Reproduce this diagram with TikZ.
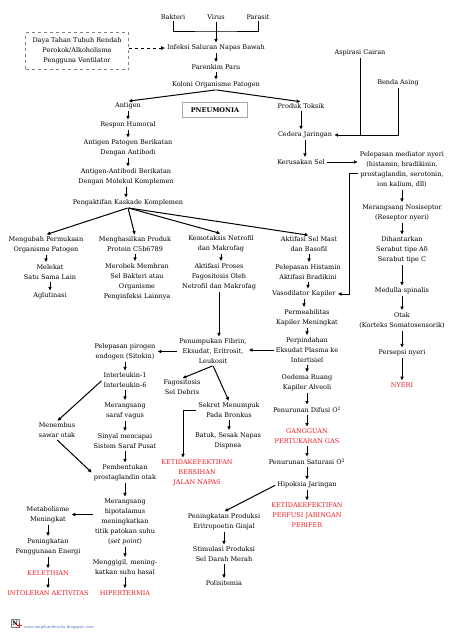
\documentclass[tikz,border=0pt]{standalone}
\usepackage{fontspec}
\setmainfont{DejaVu Serif}
\usetikzlibrary{arrows.meta}
\definecolor{alert}{RGB}{238,28,36}
\definecolor{linkblue}{RGB}{90,120,200}
\newcommand\vlink[2]{\draw[arr] (#1.south) -- (#1.south |- #2.north);}
\begin{document}
\begin{tikzpicture}[x=1pt,y=-1pt,
  every node/.style={font=\fontsize{6.5}{10}\selectfont, align=center, inner sep=1.5pt},
  warn/.style={text=alert},
  arr/.style={-{Latex[length=3.8pt,width=3.8pt]}, line width=1pt, shorten >=0.5pt, shorten <=0.5pt},
  plain/.style={line width=1pt},
]
\useasboundingbox (0,0) rectangle (452,640);

% top
\node (bak) at (173,17) {Bakteri};
\node (vir) at (216,17) {Virus};
\node (par) at (258,17) {Parasit};
\coordinate (j) at (216,31);
\node[draw=gray, dashed, thick, minimum width=103pt, minimum height=37pt] (risk) at (77,51) {Daya Tahan Tubuh Rendah\\Perokok/Alkoholisme\\Pengguna Ventilator};
\node (inf) at (216,48) {Infeksi Saluran Napas Bawah};
\node (paru) at (216,67) {Parenkim Paru};
\node (kol) at (216,85) {Koloni Organisme Patogen};
\node (ant) at (128,106) {Antigen};
\node[draw=gray!70, line width=1.3pt, minimum width=65pt, minimum height=15pt, font=\fontsize{6.5}{10}\selectfont\bfseries] (pneu) at (215,110) {PNEUMONIA};
\node (prod) at (301,106) {Produk Toksik};

% left column
\node (hum) at (128,125) {Respon Humoral};
\node (apb) at (128,148) {Antigen Patogen Berikatan\\Dengan Antibodi};
\node (aab) at (126,177) {Antigen-Antibodi Berikatan\\Dengan Molekul Komplemen};
\node (kas) at (128,203) {Pengaktifan Kaskade Komplemen};

\node (b1) at (46,244.5) {Mengubah Permukaan\\Organisme Patogen};
\node (b1a) at (50,272) {Melekat\\Satu Sama Lain};
\node (b1b) at (50,296) {Aglutinasi};
\node (b2) at (135,244.5) {Menghasilkan Produk\\Protein C5b6789};
\node (b2a) at (137,281.5) {Merobek Membran\\Sel Bakteri atau\\Organisme\\Penginfeksi Lainnya};
\node (b3) at (221,243.5) {Kemotaksis Netrofil\\dan Makrofag};
\node (b3a) at (219,276.5) {Aktifasi Proses\\Fagositosis Oleh\\Netrofil dan Makrofag};
\node (b4) at (309,244.5) {Aktifasi Sel Mast\\dan Basofil};
\node (b4a) at (308,272) {Pelepasan Histamin\\Aktifasi Bradikini};
\node (vas) at (304,294) {Vasodilator Kapiler};
\node (perm) at (307,317.5) {Permeabilitas\\Kapiler Meningkat};
\node (perp) at (307,350) {Perpindahan\\Eksudat Plasma ke\\Intertisiel};
\node (oed) at (307,382.5) {Oedema Ruang\\Kapiler Alveoli};
\node (dif) at (307,410) {Penurunan Difusi O\textsuperscript{2}};
\node[warn] (gg) at (307,436.5) {GANGGUAN\\PERTUKARAN GAS};
\node (sat) at (307,462) {Penurunan Saturasi O\textsuperscript{2}};
\node (hyp) at (307,485) {Hipoksia Jaringan};
\node[warn] (kpj) at (307,515) {KETIDAKEFEKTIFAN\\PERFUSI JARINGAN\\PERIFER};
\node (eri) at (224,521.5) {Peningkatan Produksi\\Eritropoetin Ginjal};
\node (sti) at (224,554.5) {Stimulasi Produksi\\Sel Darah Merah};
\node (pol) at (224,583) {Polisitemia};

% right columns
\node (ced) at (305,135) {Cedera Jaringan};
\node (ker) at (301,162) {Kerusakan Sel};
\node (asp) at (360,53) {Aspirasi Cairan};
\node (ben) at (398,83) {Benda Asing};
\node (med) at (402,169.5) {Pelepasan mediator nyeri\\(histamin, bradikinin,\\prostaglandin, serotonin,\\ion kalium, dll)};
\node (nos) at (402,212.5) {Merangsang Nosiseptor\\(Reseptor nyeri)};
\node (dih) at (402,250) {Dihantarkan\\Serabut tipe Aδ\\Serabut tipe C};
\node (spi) at (402,291) {Medulla spinalis};
\node (otak) at (402,320.5) {Otak\\(Korteks Somatosensorik)};
\node (pers) at (402,353) {Persepsi nyeri};
\node[warn] (nyeri) at (402,385) {NYERI};

% middle lower
\node (pen) at (213,351.5) {Penumpukan Fibrin,\\Eksudat, Eritrosit,\\Leukosit};
\node (pir) at (125,351.5) {Pelepasan pirogen\\endogen (Sitokin)};
\node (fag) at (182,387.5) {Fagositosis\\Sel Debris};
\node (sek) at (229,410.5) {Sekret Menumpuk\\Pada Bronkus};
\node (bat) at (228,440.5) {Batuk, Sesak Napas\\Dispnea};
\node[warn] (kbj) at (197,473) {KETIDAKEFEKTIFAN\\BERSIHAN\\JALAN NAPAS};

\node (il) at (125,380.5) {Interleukin-1\\Interleukin-6};
\node (mv) at (125,410.5) {Merangsang\\saraf vagus};
\node (sin) at (125,441) {Sinyal mencapai\\Sistem Saraf Pusat};
\node (pro) at (125,473) {Pembentukan\\prostaglandin otak};
\node (hip) at (125,522) {Merangsang\\hipotalamus\\meningkatkan\\titik patokan suhu\\(\textit{set point})};
\node (mgg) at (125,567) {Menggigil, mening-\\katkan suhu basal};
\node[warn] (hiper) at (125,593) {HIPERTERMIA};
\node (men) at (57,430.5) {Menembus\\sawar otak};
\node (met) at (48,514.5) {Metabolisme\\Meningkat};
\node (pe) at (48,546.5) {Peningkatan\\Penggunaan Energi};
\node[warn] (kel) at (48,573) {KELETIHAN};
\node[warn] (intl) at (48,593) {INTOLERAN AKTIVITAS};

% footer
\node[draw=gray, fill=gray!15, minimum size=8pt, inner sep=0pt, font=\fontsize{6}{6}\selectfont\bfseries] (logo) at (15,623) {N};
\node[text=red, inner sep=0pt, font=\fontsize{8}{8}\selectfont\bfseries] (plus) at (19.5,625.5) {+};
\node[anchor=west, text=linkblue, font=\sffamily\fontsize{4.6}{5}\selectfont] (url) at (22,627) {www.serpihanilmuku.blogspot.com};

% connectors top
\draw[plain] (bak.south) |- (j) -| (par.south);
\draw[arr] (vir.south) -- (vir.south |- inf.north);
\draw[arr, dashed, line width=0.6pt] (risk.east |- inf) -- (inf.west);
\vlink{inf}{paru}
\vlink{paru}{kol}
\draw[arr] (kol.south) -- (ant.north);
\draw[arr] (kol.south) -- (prod.north);

\vlink{ant}{hum}
\vlink{hum}{apb}
\vlink{apb}{aab}
\vlink{aab}{kas}
\draw[arr] (kas.south) -- (b1.north);
\draw[arr] (kas.south) -- (b2.north);
\draw[arr] (kas.south) -- (b3.north);
\draw[arr] (kas.south) -- (b4.north);
\vlink{b1}{b1a}
\vlink{b1a}{b1b}
\vlink{b2}{b2a}
\vlink{b3}{b3a}
\vlink{b3a}{pen}
\vlink{b4}{b4a}
\vlink{b4a}{vas}
\vlink{vas}{perm}
\vlink{perm}{perp}
\vlink{perp}{oed}
\vlink{oed}{dif}
\vlink{dif}{gg}
\vlink{gg}{sat}
\vlink{sat}{hyp}
\vlink{hyp}{kpj}
\draw[arr] (hyp.west) -- (eri.north);
\vlink{eri}{sti}
\vlink{sti}{pol}

\vlink{prod}{ced}
\vlink{ced}{ker}
\draw[plain] (asp.south) -- (asp.south |- ced.east);
\draw[arr] (ben.south) |- (ced.east);
\draw[arr] (ker.east) -- (ker.east -| med.west);
\draw[arr] ([yshift=-4pt]med.west) -- ++(-9,0) |- (vas.east);
\vlink{med}{nos}
\vlink{nos}{dih}
\vlink{dih}{spi}
\vlink{spi}{otak}
\vlink{otak}{pers}
\vlink{pers}{nyeri}

\draw[arr] (perp.west) -- (perp.west -| pen.east);
\draw[arr] (pen.west |- pir) -- (pir.east);
\draw[arr] (pen.south) -- (fag.north);
\draw[arr] (pen.south) -- (sek.north);
\vlink{sek}{bat}
\draw[arr] (sek.west) -| ([xshift=-14pt]kbj.north);

\vlink{pir}{il}
\vlink{il}{mv}
\vlink{mv}{sin}
\vlink{sin}{pro}
\vlink{pro}{hip}
\vlink{hip}{mgg}
\vlink{mgg}{hiper}
\draw[arr] (il.west) -- (men.north);
\draw[arr] (men.south) -- (pro.west);
\draw[arr] (hip.west |- met) -- (met.east);
\vlink{met}{pe}
\vlink{pe}{kel}
\vlink{kel}{intl}
\end{tikzpicture}
\end{document}
